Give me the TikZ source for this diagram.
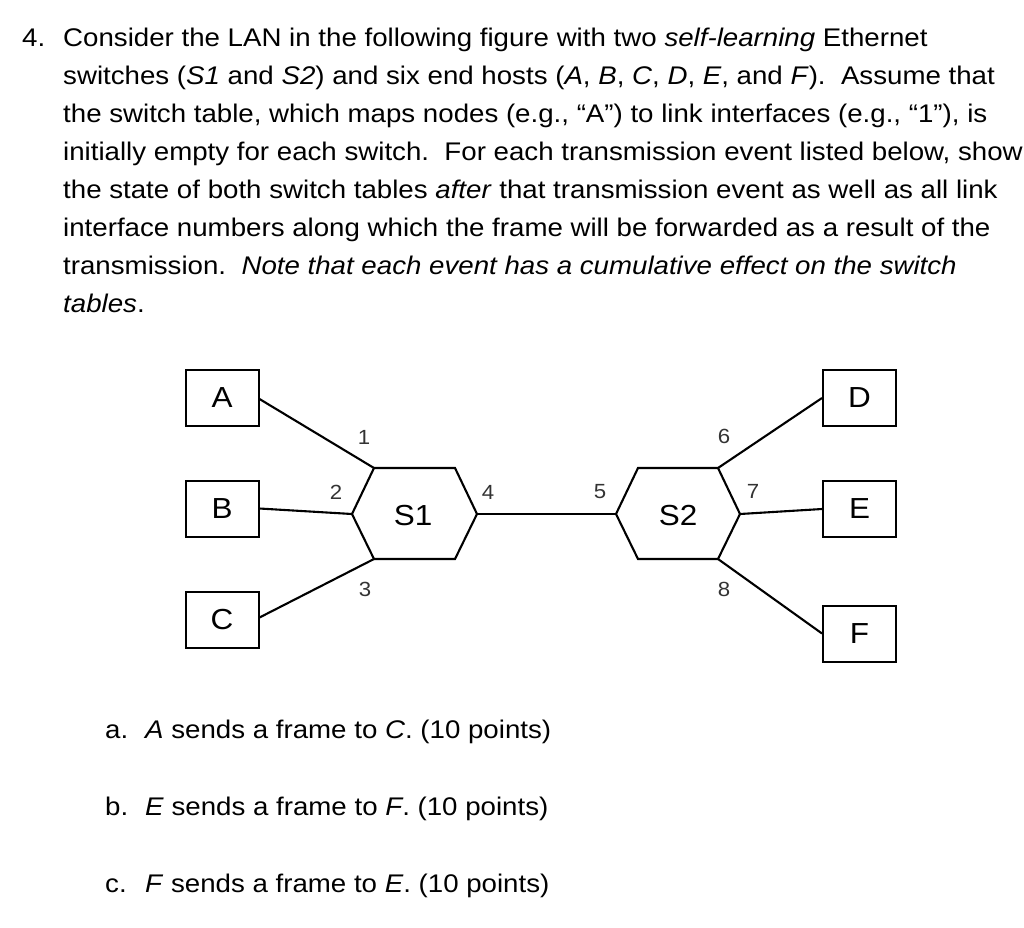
\documentclass[tikz,border=0pt]{standalone}
\usepackage{fontspec}
\setmainfont[FakeStretch=1.085]{Liberation Sans}
\begin{document}
\begin{tikzpicture}[x=1pt,y=-1pt,
  body/.style={anchor=base west,inner sep=0pt,font=\fontsize{25.5}{30}\selectfont},
  host/.style={draw,line width=2pt,minimum width=73pt,minimum height=56pt,inner sep=0pt,font=\fontsize{29}{32}\selectfont},
  link/.style={line width=2.1pt},
  swlabel/.style={inner sep=0pt,font=\fontsize{29}{32}\selectfont},
  port/.style={inner sep=0pt,font=\fontsize{20.5}{24}\selectfont,text=black!80}]
\useasboundingbox (0,0) rectangle (1024,927);
% question text
\node[body] (n4) at (22,46.5) {4.};
\node[body] (l1) at (63,46.5) {Consider the LAN in the following figure with two \textit{self-learning} Ethernet};
\node[body] (l2) at (63,84.5) {switches (\textit{S1} and \textit{S2}) and six end hosts (\textit{A}, \textit{B}, \textit{C}, \textit{D}, \textit{E}, and \textit{F}).\ \ Assume that};
\node[body] (l3) at (63,122.5) {the switch table, which maps nodes (e.g., “A”) to link interfaces (e.g., “1”), is};
\node[body] (l4) at (63,160.5) {initially empty for each switch.\ \ For each transmission event listed below, show};
\node[body] (l5) at (63,198.5) {the state of both switch tables \textit{after} that transmission event as well as all link};
\node[body] (l6) at (63,236.5) {interface numbers along which the frame will be forwarded as a result of the};
\node[body] (l7) at (63,274.5) {transmission.\ \ \textit{Note that each event has a cumulative effect on the switch}};
\node[body] (l8) at (63,312.5) {\textit{tables}.};
% hosts
\node[host] (A) at (222,398) {A};
\node[host] (B) at (222,508.5) {B};
\node[host] (C) at (222,619.5) {C};
\node[host] (D) at (859.5,398) {D};
\node[host] (E) at (859.5,509) {E};
\node[host] (F) at (859.5,633.5) {F};
% switch S1
\coordinate (s1tl) at (374,468);
\coordinate (s1tr) at (455,468);
\coordinate (s1r) at (477,514);
\coordinate (s1br) at (455,559);
\coordinate (s1bl) at (374,559);
\coordinate (s1l) at (352,514);
\draw[link,line join=miter] (s1tl) -- (s1tr) -- (s1r) -- (s1br) -- (s1bl) -- (s1l) -- cycle;
\node[swlabel] (S1) at (413,516) {S1};
% switch S2
\coordinate (s2tl) at (638,468);
\coordinate (s2tr) at (718,468);
\coordinate (s2r) at (740,514);
\coordinate (s2br) at (718,559);
\coordinate (s2bl) at (638,559);
\coordinate (s2l) at (616,514);
\draw[link,line join=miter] (s2tl) -- (s2tr) -- (s2r) -- (s2br) -- (s2bl) -- (s2l) -- cycle;
\node[swlabel] (S2) at (678,516) {S2};
% links
\draw[link] (A.east) ++(0,1) coordinate (Ae) (Ae) -- (s1tl);
\draw[link] (B.east) -- (s1l);
\draw[link] (C.east) ++(0,-2) coordinate (Ce) (Ce) -- (s1bl);
\draw[link] (s1r) -- (s2l);
\draw[link] (s2tr) -- (D.west);
\draw[link] (s2r) -- (E.west);
\draw[link] (s2br) -- (F.west);
% port labels
\node[port] (p1) at (364,437) {1};
\node[port] (p2) at (336,492) {2};
\node[port] (p3) at (365,589) {3};
\node[port] (p4) at (488,492) {4};
\node[port] (p5) at (600,492) {5};
\node[port] (p6) at (724,436) {6};
\node[port] (p7) at (753,491) {7};
\node[port] (p8) at (724,589) {8};
% events
\node[body] (ea) at (105,738) {a.};
\node[body] (ta) at (145,738) {\textit{A} sends a frame to \textit{C}. (10 points)};
\node[body] (eb) at (105,815) {b.};
\node[body] (tb) at (145,815) {\textit{E} sends a frame to \textit{F}. (10 points)};
\node[body] (ec) at (105,892) {c.};
\node[body] (tc) at (145,892) {\textit{F} sends a frame to \textit{E}. (10 points)};
\end{tikzpicture}
\end{document}
